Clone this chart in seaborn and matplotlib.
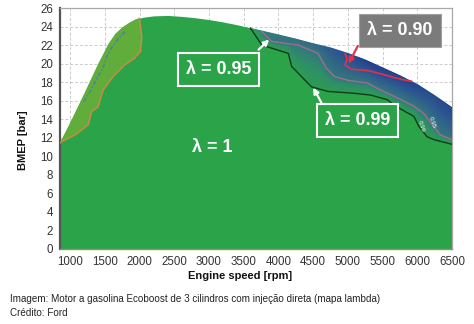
import numpy as np
import matplotlib
matplotlib.use("Agg")
import matplotlib.pyplot as plt
from matplotlib.colors import LinearSegmentedColormap
from matplotlib.patches import Polygon
import seaborn as sns

# Full-load curve: maximum BMEP over engine speed
env_rpm = [850, 1000, 1200, 1400, 1550, 1650, 1750, 1850, 1950, 2050, 2200, 2400,
           2600, 2800, 3000, 3200, 3400, 3600, 3800, 4000, 4250, 4500, 4750, 5000,
           5250, 5500, 5750, 6000, 6250, 6500]
env_bar = [11.4, 13.6, 16.7, 19.9, 22.1, 23.2, 23.9, 24.4, 24.8, 25.0, 25.15, 25.2,
           25.1, 24.95, 24.75, 24.5, 24.2, 23.85, 23.5, 23.15, 22.7, 22.2, 21.75, 21.15,
           20.45, 19.6, 18.75, 17.8, 16.6, 15.3]

# Low-speed zone boundary (orange contour)
low_rpm = [850, 881, 1071, 1262, 1310, 1405, 1476, 1619, 1786, 1929, 2014, 2033, 2000]
low_bar = [11.4, 11.6, 12.3, 13.4, 14.8, 15.35, 17.15, 18.6, 19.85, 20.6, 21.3, 22.9, 24.9]

# Inner dotted contour of the low-speed zone
dot_rpm = [1200, 1262, 1381, 1476, 1520, 1595, 1714, 1800]
dot_bar = [15.9, 16.6, 18.3, 19.6, 20.6, 21.7, 22.9, 23.5]

# Lambda contours in the high-speed zone
l99_rpm = [3595, 3762, 4143, 4190, 4476, 4714, 5095, 5333, 5571, 5667, 5952, 6024,
           6143, 6238, 6500]
l99_bar = [23.85, 22.0, 21.1, 19.7, 17.5, 17.0, 16.8, 16.6, 16.1, 15.5, 14.3, 13.2,
           12.1, 11.8, 11.3]

l95_rpm = [3762, 3905, 4286, 4571, 4690, 4810, 5000, 5286, 5429, 5714, 5952, 6095,
           6238, 6333, 6500]
l95_bar = [23.45, 22.4, 22.0, 21.1, 19.5, 18.6, 18.2, 17.9, 17.3, 16.3, 15.4, 14.6,
           13.2, 12.3, 11.8]

l90_rpm = [4960, 4990, 4960, 5050, 5290, 5450, 5670, 5800, 5920]
l90_bar = [21.1, 20.5, 19.85, 19.4, 19.25, 18.95, 18.5, 18.25, 18.1]

# Lambda reached along the full-load curve
top_rpm = [3595, 3762, 4000, 4500, 4900, 5300, 5900, 6200, 6500]
top_lam = [0.99, 0.96, 0.95, 0.935, 0.91, 0.885, 0.89, 0.905, 0.895]

x_ticks = list(range(1000, 7000, 500))
y_ticks = list(range(0, 28, 2))

GREEN = "#2aa349"
LIGHT_GREEN = "#60ad3c"

sns.set_style("white")
plt.rcParams["font.family"] = ["Liberation Sans", "DejaVu Sans"]

fig = plt.figure(figsize=(4.74, 3.24), dpi=100)
ax = fig.add_axes([0.1266, 0.2315, 0.827, 0.7438])

ax.set_axisbelow(True)
ax.grid(True, color="#cccccc", lw=0.7, ls=(0, (3, 2)))

# operating area
ax.fill_between(env_rpm, 0, env_bar, color=GREEN, lw=0, zorder=1)

# low-speed zone
low_poly = list(zip(low_rpm, low_bar)) + [(r, b) for r, b in
                                          reversed(list(zip(env_rpm, env_bar))) if r < 2000]
ax.add_patch(Polygon(low_poly, closed=True, fc=LIGHT_GREEN, ec="none", zorder=2))

# high-speed rich zone: lambda shading between the 0.99 contour and full load
xs = np.linspace(3560, 6500, 700)
ys = np.linspace(10.0, 25.5, 420)
e = np.interp(xs, env_rpm, env_bar)
a = np.interp(xs, l99_rpm, l99_bar)
b = np.interp(xs, l95_rpm, l95_bar, left=np.nan, right=np.nan)
t = np.interp(xs, top_rpm, top_lam)
field = np.ones((len(ys), len(xs)))
for j in range(len(xs)):
    if np.isnan(b[j]) or b[j] >= e[j] - 0.05:
        yk, lk = [a[j], e[j] + 1e-6], [0.99, t[j]]
    else:
        yk, lk = [a[j], b[j], e[j] + 1e-6], [0.99, 0.95, t[j]]
    field[:, j] = np.interp(ys, yk, lk)

lam_cmap = LinearSegmentedColormap.from_list(
    "lambda",
    [(0.00, "#1d2f85"), (0.154, "#243f8e"), (0.385, "#2d5890"),
     (0.615, "#35757e"), (0.769, "#2f8f68"), (0.923, "#2c9c52"), (1.00, GREEN)])
rich_poly = Polygon(list(zip(l99_rpm, l99_bar)) +
                    [(r, bb) for r, bb in reversed(list(zip(env_rpm, env_bar))) if r >= 3600],
                    closed=True, fc="none", ec="none", transform=ax.transData)
ax.add_patch(rich_poly)
img = ax.imshow(field, origin="lower", extent=(xs[0], xs[-1], ys[0], ys[-1]),
                cmap=lam_cmap, vmin=0.87, vmax=1.0, aspect="auto",
                interpolation="bilinear", zorder=3)
img.set_clip_path(rich_poly)

# contour lines
sns.lineplot(x=low_rpm, y=low_bar, sort=False, estimator=None, color="#c98a45",
             lw=1.1, ax=ax, zorder=4)
sns.lineplot(x=dot_rpm, y=dot_bar, sort=False, estimator=None, color="#4f7fa6",
             lw=1.0, ls=(0, (3, 1.5, 1, 1.5)), ax=ax, zorder=4)
sns.lineplot(x=l99_rpm, y=l99_bar, sort=False, estimator=None, color="#143a1c",
             lw=1.0, ax=ax, zorder=4)
sns.lineplot(x=l95_rpm, y=l95_bar, sort=False, estimator=None, color="#9a6f8e",
             lw=1.0, ax=ax, zorder=4)
sns.lineplot(x=l90_rpm, y=l90_bar, sort=False, estimator=None, color="#e3304c",
             lw=1.2, ax=ax, zorder=4)

ax.text(6048, 13.2, "0.99", rotation=-72, fontsize=4.5, color="white",
        ha="center", va="center", zorder=5)
ax.text(6214, 13.7, "0.95", rotation=-72, fontsize=4.5, color="white",
        ha="center", va="center", zorder=5)

# labelled boxes
box_kw = dict(ha="center", va="center", color="white", fontsize=12.9,
              fontweight="bold", zorder=7)
ax.text(5750, 23.55, "λ = 0.90",
        bbox=dict(boxstyle="square,pad=0.45", fc="#7b7b7b", ec="#a0a0a0", lw=0.8), **box_kw)
ax.text(3136, 19.4, "λ = 0.95",
        bbox=dict(boxstyle="square,pad=0.45", fc=GREEN, ec="white", lw=1.5), **box_kw)
ax.text(5136, 13.9, "λ = 0.99",
        bbox=dict(boxstyle="square,pad=0.45", fc=GREEN, ec="white", lw=1.5), **box_kw)
ax.text(3043, 10.9, "λ = 1", **box_kw)

arrow = dict(arrowstyle="-|>", lw=1.6, mutation_scale=8, shrinkA=0, shrinkB=0)
ax.annotate("", xy=(3867, 22.6), xytext=(3714, 21.5),
            arrowprops=dict(color="white", **arrow), zorder=6)
ax.annotate("", xy=(4500, 17.4), xytext=(4619, 15.8),
            arrowprops=dict(color="white", **arrow), zorder=6)
ax.annotate("", xy=(5010, 20.0), xytext=(5143, 21.9),
            arrowprops=dict(color="#e3304c", **arrow), zorder=6)

ax.set_xlim(855, 6500)
ax.set_ylim(0, 26)
ax.set_xticks(x_ticks)
ax.set_yticks(y_ticks)
ax.tick_params(direction="out", length=3, width=0.8, color="#666",
               labelsize=8.3, labelcolor="#333", pad=2)
ax.set_xlabel("Engine speed [rpm]", fontsize=8, fontweight="bold", color="#111")
ax.set_ylabel("BMEP [bar]", fontsize=8, fontweight="bold", color="#111")
ax.xaxis.set_label_coords(0.46, -0.092)
ax.yaxis.set_label_coords(-0.082, 0.45)

for side in ("top", "right"):
    ax.spines[side].set_color("#a8a8a8")
    ax.spines[side].set_linewidth(0.9)
ax.spines["left"].set_color("#555555")
ax.spines["left"].set_linewidth(1.6)
ax.spines["bottom"].set_color("#8f8f7a")
ax.spines["bottom"].set_linewidth(1.0)

fig.text(0.021, 0.077, "Imagem: Motor a gasolina Ecoboost de 3 cilindros com injeção direta (mapa lambda)",
         fontsize=7.15, va="center", color="#222")
fig.text(0.021, 0.034, "Crédito: Ford", fontsize=7.15, va="center", color="#222")

fig.savefig("out.png", dpi=100)
